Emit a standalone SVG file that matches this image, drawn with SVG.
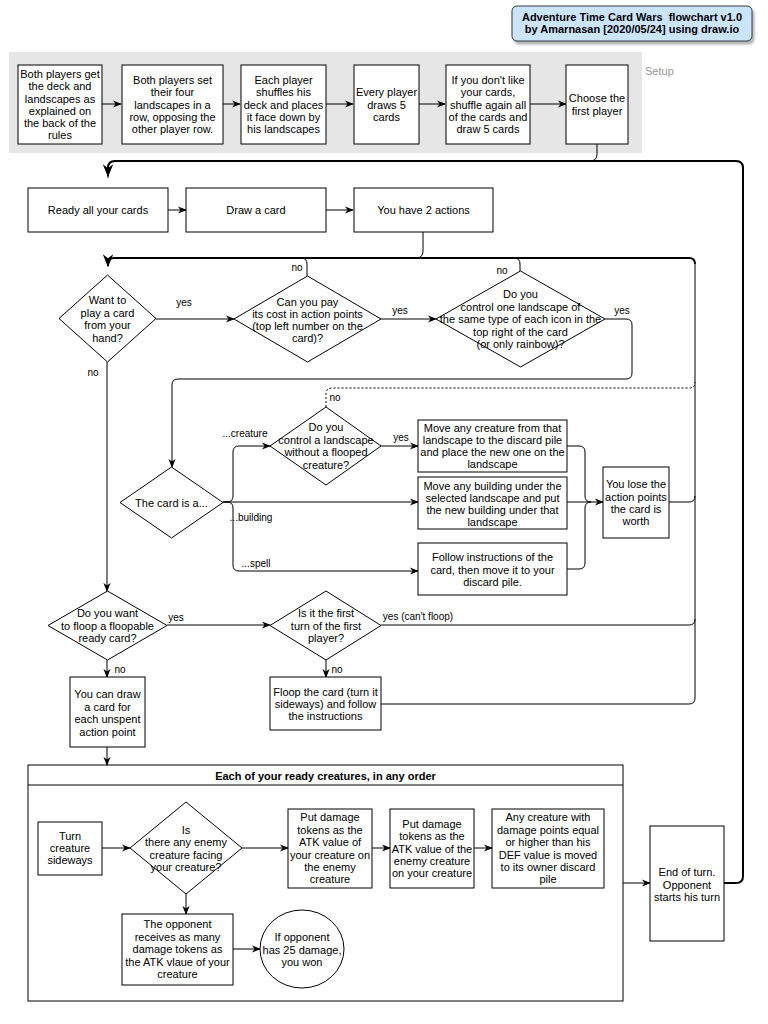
<svg xmlns="http://www.w3.org/2000/svg" width="768" height="1024" viewBox="0 0 768 1024">
<defs>
<marker id="arr" viewBox="0 0 10 10" refX="9" refY="5" markerWidth="9" markerHeight="9" markerUnits="userSpaceOnUse" orient="auto"><path d="M0,1 L10,5 L0,9 L3,5 z" fill="#000"/></marker>
<marker id="arrT" viewBox="0 0 10 10" refX="9" refY="5" markerWidth="13" markerHeight="13" markerUnits="userSpaceOnUse" orient="auto"><path d="M0,1 L10,5 L0,9 L3,5 z" fill="#000"/></marker>
<filter id="sh" x="-10%" y="-20%" width="130%" height="160%"><feDropShadow dx="2" dy="3" stdDeviation="1.2" flood-color="#000" flood-opacity="0.3"/></filter>
</defs>
<style>
.n rect, .n path, .n ellipse {fill:#fff; stroke:#000; stroke-width:1}
text {font-family:"Liberation Sans", Arial, Helvetica, sans-serif; font-size:11px; text-anchor:middle; dominant-baseline:central; fill:#000}
.c path {fill:none; stroke:#000; stroke-width:1}
.c path.a {marker-end:url(#arr)}
.c path.thick {stroke-width:2}
.c path.dot {stroke-dasharray:2 2}
.lbl {font-size:10px}
.b {font-weight:bold}
.setuplbl {fill:#999999; text-anchor:start}
</style>
<rect width="768" height="1024" fill="#fff"/>

<g id="title">
<rect x="512" y="6" width="240" height="35" rx="5" fill="#cce5ff" stroke="#36393d" stroke-width="1" filter="url(#sh)"/>
<text x="632" y="17" class="b" xml:space="preserve">Adventure Time Card Wars  flowchart v1.0</text>
<text x="632" y="29" class="b">by Amarnasan [2020/05/24] using draw.io</text>
</g>

<g id="setup">
<rect x="9" y="52" width="633" height="101" fill="#e6e6e6"/>
<text x="645" y="71" class="setuplbl">Setup</text>
</g>

<g id="container" class="n"><rect x="28" y="765" width="595" height="236"/>
<path d="M28,785 L623,785"/>
<text x="325.5" y="776" class="b">Each of your ready creatures, in any order</text></g>

<g id="connectors" class="c">
<path class="a" d="M102,104 L121,104"/>
<path class="a" d="M223,104 L240,104"/>
<path class="a" d="M326,104 L353,104"/>
<path class="a" d="M419,104 L445,104"/>
<path class="a" d="M530,104 L566,104"/>
<path d="M597,144 L597,154 Q597,161 590,161 L560,161"/>
<path class="thick" d="M724,883 L736,883 Q743,883 743,876 L743,168 Q743,161 736,161 L115,161 Q108,161 108,168 L108,176" style="marker-end:url(#arrT)"/>
<path d="M108,176 L108,178"/>
<path class="a" d="M168,210 L186,210"/>
<path class="a" d="M326,210 L353,210"/>
<path d="M423,232 L423,251 Q423,258 416,258 L400,258"/>
<path class="thick" d="M695,264 Q695,258 689,258 L114,258 Q108,258 108,264 L108,266" style="marker-end:url(#arrT)"/>
<path d="M695,698 L695,264"/>
<path d="M307,276 L307,264 Q307,258 301,258"/>
<path d="M520,271 L520,264 Q520,258 514,258"/>
<path class="a" d="M156,319 L234,319"/>
<path class="a" d="M381,319 L436,319"/>
<path class="a" d="M605,319 L626,319 Q632,319 632,325 L632,373 Q632,379 626,379 L178,379 Q172,379 172,385 L172,467"/>
<path class="a" d="M107,362 L107,591"/>
<path class="a" d="M223,502 L227,502 Q233,502 233,496 L233,452 Q233,446 239,446 L270,446"/>
<path class="a" d="M223,502 L418,502"/>
<path class="a" d="M223,502 L227,502 Q233,502 233,508 L233,565 Q233,571 239,571 L418,571"/>
<path class="a" d="M381,446 L418,446"/>
<path d="M567,446 L579,446 Q585,446 585,452 L585,496 Q585,502 591,502"/>
<path d="M567,569 L579,569 Q585,569 585,563 L585,508 Q585,502 591,502"/>
<path class="a" d="M567,502 L603,502"/>
<path d="M669,502 L689,502 Q695,502 695,496"/>
<path class="dot" d="M326,407 L326,394 Q326,388 332,388 L689,388 Q695,388 695,382"/>
<path class="a" d="M167,625 L270,625"/>
<path d="M381,625 L689,625 Q695,625 695,619"/>
<path class="a" d="M107,660 L107,677"/>
<path class="a" d="M326,660 L326,677"/>
<path d="M381,704 L689,704 Q695,704 695,698"/>
<path class="a" d="M107,747 L107,765"/>
<path class="a" d="M102,848 L130,848"/>
<path class="a" d="M242,848 L288,848"/>
<path class="a" d="M372,848 L390,848"/>
<path class="a" d="M474,848 L492,848"/>
<path class="a" d="M186,894 L186,914"/>
<path class="a" d="M233,949 L260,949"/>
<path class="a" d="M623,883 L650,883"/>
<text class="lbl" x="297" y="267">no</text>
<text class="lbl" x="502" y="270">no</text>
<text class="lbl" x="184" y="302">yes</text>
<text class="lbl" x="400" y="310">yes</text>
<text class="lbl" x="622" y="310">yes</text>
<text class="lbl" x="93" y="372">no</text>
<text class="lbl" x="245" y="433">...creature</text>
<text class="lbl" x="401" y="437">yes</text>
<rect x="328" y="391" width="14" height="12" fill="#fff"/>
<text class="lbl" x="335" y="397">no</text>
<text class="lbl" x="251" y="517">...building</text>
<text class="lbl" x="256" y="563">...spell</text>
<text class="lbl" x="176" y="617">yes</text>
<text class="lbl" x="418" y="616">yes (can't floop)</text>
<text class="lbl" x="120" y="669">no</text>
<text class="lbl" x="337" y="669">no</text>
</g>

<g id="s1" class="n"><rect x="18" y="65" width="84" height="79"/>
<text x="60" y="74">Both players get</text><text x="60" y="86">the deck and</text><text x="60" y="98.5">landscapes as</text><text x="60" y="111">explained on</text><text x="60" y="123">the back of the</text><text x="60" y="135">rules</text></g>
<g id="s2" class="n"><rect x="122" y="65" width="101" height="79"/>
<text x="172.5" y="80">Both players set</text><text x="172.5" y="92">their four</text><text x="172.5" y="104.5">landscapes in a</text><text x="172.5" y="116.5">row, opposing the</text><text x="172.5" y="128.5">other player row.</text></g>
<g id="s3" class="n"><rect x="241" y="65" width="85" height="79"/>
<text x="283.5" y="80">Each player</text><text x="283.5" y="92">shuffles his</text><text x="283.5" y="104.5">deck and places</text><text x="283.5" y="116.5">it face down by</text><text x="283.5" y="128.5">his landscapes</text></g>
<g id="s4" class="n"><rect x="354" y="65" width="65" height="79"/>
<text x="386.5" y="92">Every player</text><text x="386.5" y="104.5">draws 5</text><text x="386.5" y="117">cards</text></g>
<g id="s5" class="n"><rect x="446" y="65" width="84" height="79"/>
<text x="488" y="80">If you don't like</text><text x="488" y="92">your cards,</text><text x="488" y="104.5">shuffle again all</text><text x="488" y="116.5">of the cards and</text><text x="488" y="128.5">draw 5 cards</text></g>
<g id="s6" class="n"><rect x="566" y="65" width="62" height="79"/>
<text x="597" y="98">Choose the</text><text x="597" y="111">first player</text></g>

<g id="ready" class="n"><rect x="28" y="188" width="140" height="44"/><text x="98" y="210">Ready all your cards</text></g>
<g id="draw" class="n"><rect x="186" y="188" width="140" height="44"/><text x="256" y="210">Draw a card</text></g>
<g id="actions" class="n"><rect x="354" y="188" width="139" height="44"/><text x="423.5" y="210">You have 2 actions</text></g>

<g id="d1" class="n"><path d="M107.5,275 L156,318.5 L107.5,362 L59,318.5 Z"/>
<text x="107.5" y="300">Want to</text><text x="107.5" y="312.5">play a card</text><text x="107.5" y="325">from your</text><text x="107.5" y="337.5">hand?</text></g>
<g id="d2" class="n"><path d="M307.5,276 L381,319 L307.5,362 L234,319 Z"/>
<text x="307.5" y="302">Can you pay</text><text x="307.5" y="314">its cost in action points</text><text x="307.5" y="326">(top left number on the</text><text x="307.5" y="338">card)?</text></g>
<g id="d3" class="n"><path d="M520.5,271 L605,319 L520.5,367 L436,319 Z"/>
<text x="520.5" y="294">Do you</text><text x="520.5" y="306.5">control one landscape of</text><text x="520.5" y="319">the same type of each icon in the</text><text x="520.5" y="331.5">top right of the card</text><text x="520.5" y="344">(or only rainbow)?</text></g>

<g id="d4" class="n"><path d="M171.5,467 L223,502.5 L171.5,538 L120,502.5 Z"/>
<text x="171.5" y="502.5">The card is a...</text></g>
<g id="d5" class="n"><path d="M326,407 L381,446 L326,485 L270,446 Z"/>
<text x="326" y="427">Do you</text><text x="326" y="439.5">control a landscape</text><text x="326" y="452">without a flooped</text><text x="326" y="464.5">creature?</text></g>

<g id="b1" class="n"><rect x="418" y="420" width="149" height="52"/>
<text x="492.5" y="428">Move any creature from that</text><text x="492.5" y="440">landscape to the discard pile</text><text x="492.5" y="452">and place the new one on the</text><text x="492.5" y="464">landscape</text></g>
<g id="b2" class="n"><rect x="418" y="477" width="149" height="52"/>
<text x="492.5" y="486">Move any building under the</text><text x="492.5" y="498">selected landscape and put</text><text x="492.5" y="510">the new building under that</text><text x="492.5" y="522">landscape</text></g>
<g id="b3" class="n"><rect x="418" y="543" width="149" height="52"/>
<text x="492.5" y="557">Follow instructions of the</text><text x="492.5" y="569.5">card, then move it to your</text><text x="492.5" y="582">discard pile.</text></g>
<g id="lose" class="n"><rect x="603" y="467" width="66" height="71"/>
<text x="636" y="484">You lose the</text><text x="636" y="496.5">action points</text><text x="636" y="508.5">the card is</text><text x="636" y="521">worth</text></g>

<g id="d6" class="n"><path d="M107.5,591 L167,625.5 L107.5,660 L48,625.5 Z"/>
<text x="107.5" y="613">Do you want</text><text x="107.5" y="625.5">to floop a floopable</text><text x="107.5" y="638">ready card?</text></g>
<g id="d7" class="n"><path d="M326,591 L381,625.5 L326,660 L270,625.5 Z"/>
<text x="326" y="613">Is it the first</text><text x="326" y="625.5">turn of the first</text><text x="326" y="638">player?</text></g>
<g id="drawmore" class="n"><rect x="70" y="677" width="75" height="70"/>
<text x="107.5" y="694">You can draw</text><text x="107.5" y="706.5">a card for</text><text x="107.5" y="719">each unspent</text><text x="107.5" y="731.5">action point</text></g>
<g id="floop" class="n"><rect x="270" y="677" width="111" height="53"/>
<text x="325.5" y="692">Floop the card (turn it</text><text x="325.5" y="704">sideways) and follow</text><text x="325.5" y="716">the instructions</text></g>

<g id="turn" class="n"><rect x="38" y="822" width="64" height="53"/>
<text x="70" y="836">Turn</text><text x="70" y="848">creature</text><text x="70" y="860">sideways</text></g>
<g id="d8" class="n"><path d="M186,802 L242,848 L186,894 L130,848 Z"/>
<text x="186" y="830">Is</text><text x="186" y="842">there any enemy</text><text x="186" y="854.5">creature facing</text><text x="186" y="867">your creature?</text></g>
<g id="p1" class="n"><rect x="288" y="809" width="84" height="79"/>
<text x="330" y="817">Put damage</text><text x="330" y="829.5">tokens as the</text><text x="330" y="842">ATK value of</text><text x="330" y="854.5">your creature on</text><text x="330" y="867">the enemy</text><text x="330" y="879">creature</text></g>
<g id="p2" class="n"><rect x="390" y="809" width="84" height="79"/>
<text x="432" y="824">Put damage</text><text x="432" y="836">tokens as the</text><text x="432" y="848.5">ATK value of the</text><text x="432" y="861">enemy creature</text><text x="432" y="873">on your creature</text></g>
<g id="p3" class="n"><rect x="492" y="809" width="112" height="79"/>
<text x="548" y="817">Any creature with</text><text x="548" y="829.5">damage points equal</text><text x="548" y="842">or higher than his</text><text x="548" y="854.5">DEF value is moved</text><text x="548" y="867">to its owner discard</text><text x="548" y="879">pile</text></g>
<g id="opp" class="n"><rect x="122" y="914" width="111" height="71"/>
<text x="177.5" y="924">The opponent</text><text x="177.5" y="936.5">receives as many</text><text x="177.5" y="949">damage tokens as</text><text x="177.5" y="961.5">the ATK vlaue of your</text><text x="177.5" y="974">creature</text></g>
<g id="won" class="n"><ellipse cx="302" cy="949" rx="42" ry="39"/>
<text x="302" y="937">If opponent</text><text x="302" y="949.5">has 25 damage,</text><text x="302" y="962">you won</text></g>
<g id="end" class="n"><rect x="650" y="826" width="74" height="115"/>
<text x="687" y="872">End of turn.</text><text x="687" y="884.5">Opponent</text><text x="687" y="897">starts his turn</text></g>
</svg>
